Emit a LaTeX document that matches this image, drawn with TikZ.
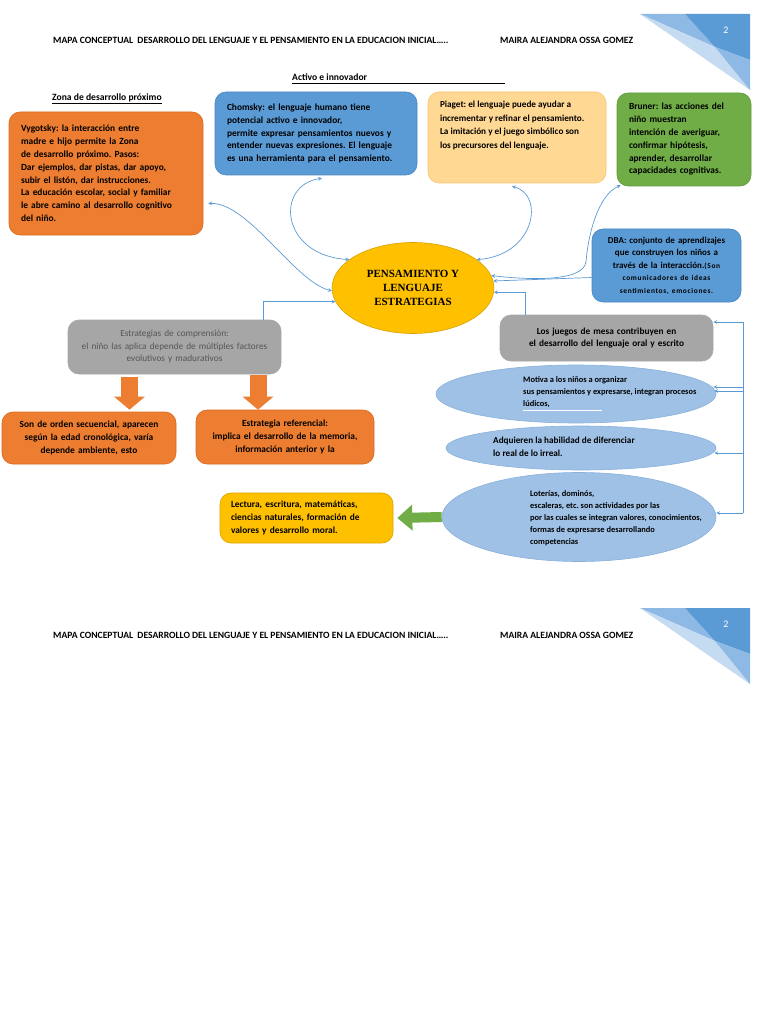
\documentclass[tikz,border=0pt]{standalone}
\usepackage{fontspec}
\setmainfont{Carlito}
\newfontfamily\titfont{Liberation Serif}
\usetikzlibrary{shapes,arrows,arrows.meta,positioning,calc}
\frenchspacing

\definecolor{lineblue}{HTML}{5B9BD5}
\definecolor{hddark}{HTML}{5B9BD5}
\definecolor{hdmid}{HTML}{8DB9E4}
\definecolor{hdlight}{HTML}{C5DBF1}
\definecolor{naranja}{HTML}{ED7D31}
\definecolor{naranjaborde}{HTML}{D86A1E}
\definecolor{azul}{HTML}{5B9BD5}
\definecolor{azulborde}{HTML}{4A86C2}
\definecolor{durazno}{HTML}{FFD894}
\definecolor{duraznoborde}{HTML}{F6C46E}
\definecolor{verde}{HTML}{70AD47}
\definecolor{verdeborde}{HTML}{5F9A3A}
\definecolor{oro}{HTML}{FFC000}
\definecolor{oroborde}{HTML}{D9A300}
\definecolor{gris}{HTML}{A6A6A6}
\definecolor{celeste}{HTML}{9FC1E6}
\definecolor{celesteborde}{HTML}{8AB0DC}
\definecolor{textogris}{HTML}{555555}

\newcommand{\chico}{\fontsize{7.4}{12}\selectfont\addfontfeature{LetterSpace=9}}

\begin{document}
\begin{tikzpicture}[x=1pt, y=-1pt,
  caja/.style={draw, rounded corners=11pt, line width=0.6pt, inner sep=0pt,
               align=left, text=black, font=\fontsize{9.4}{12.8}\selectfont\bfseries},
  elipse/.style={ellipse, draw=celesteborde, fill=celeste, line width=0.6pt, inner sep=0pt},
  etxt/.style={inner sep=0pt, align=left, font=\fontsize{8.4}{12}\selectfont\bfseries},
  hdtxt/.style={inner sep=0pt, font=\fontsize{9.6}{11}\selectfont\bfseries},
  subt/.style={inner sep=0pt, anchor=base west, font=\fontsize{9.6}{11}\selectfont\bfseries},
  conn/.style={draw=lineblue, line width=0.7pt},
  flecha/.style={draw=naranja, line width=17pt, -{Triangle[length=13pt,width=30pt]}},
  flechaverde/.style={draw=verde, line width=10pt, -{Triangle[length=15pt,width=25pt]}},
  >=stealth
]
\fill[white] (0,0) rectangle (768,1024);
\useasboundingbox (0,0) rectangle (768,1024);

% cabecera de las dos paginas
\foreach \dy/\nm in {0/a,594/b}{
  \begin{scope}[shift={(0,\dy)}]
    \fill[hdmid] (640,14) -- (685,14) -- (715,47) -- cycle;
    \fill[hddark] (685,14) -- (750,14) -- (750,60) -- (715,47) -- cycle;
    \fill[hdlight] (640,14) -- (715,47) -- (750,90) -- cycle;
    \fill[hdmid] (715,47) -- (750,60) -- (750,90) -- cycle;
    \node[hdtxt, anchor=base west] (titulo\nm) at (53,44)
      {MAPA CONCEPTUAL\ \ DESARROLLO DEL LENGUAJE Y EL PENSAMIENTO EN LA EDUCACION INICIAL…..};
    \node[hdtxt, anchor=base west] (autora\nm) at (500,44) {MAIRA ALEJANDRA OSSA GOMEZ};
    \node[text=white, font=\fontsize{10}{12}\selectfont] (pag\nm) at (726,30) {2};
  \end{scope}
}

\node[subt] (activo) at (292,81) {Activo e innovador};
\draw[line width=0.6pt] ([yshift=-2.5pt]activo.base west) -- ++(213,0);
\node[subt] (zona) at (52,101) {Zona de desarrollo próximo};
\draw[line width=0.6pt] ([yshift=-2.5pt]zona.base west) -- ([yshift=-2.5pt]zona.base east);

% autores
\node[caja, fill=naranja, draw=naranjaborde, minimum width=194pt, minimum height=123pt,
      text width=170pt] (vyg) at (106,173.5)
  {Vygotsky: la interacción entre\\madre e hijo permite la Zona\\de desarrollo próximo. Pasos:\\
   Dar ejemplos, dar pistas, dar apoyo,\\subir el listón, dar instrucciones.\\
   La educación escolar, social y familiar\\le abre camino al desarrollo cognitivo\\del niño.};
\node[caja, fill=azul, draw=azulborde, minimum width=202pt, minimum height=83pt,
      text width=178pt] (chom) at (316,133.5)
  {Chomsky: el lenguaje humano tiene\\potencial activo e innovador,\\
   permite expresar pensamientos nuevos y\\entender nuevas expresiones. El lenguaje\\
   es una herramienta para el pensamiento.};
\node[caja, fill=durazno, draw=duraznoborde, minimum width=178pt, minimum height=91pt,
      font=\fontsize{9.2}{13.6}\selectfont\bfseries] (piag) at (517,137.5)
  {\parbox[c][73pt][t]{154pt}{Piaget: el lenguaje puede ayudar a\\
   incrementar y refinar el pensamiento.\\La imitación y el juego simbólico son\\
   los precursores del lenguaje.}};
\node[caja, fill=verde, draw=verdeborde, minimum width=134pt, minimum height=93pt,
      text width=110pt] (brun) at (684,139.5)
  {Bruner: las acciones del\\niño muestran\\intención de averiguar,\\confirmar hipótesis,\\
   aprender, desarrollar\\capacidades cognitivas.};

% centro
\node[ellipse, draw=oroborde, fill=oro, line width=0.6pt, minimum width=162pt,
      minimum height=91pt, inner sep=0pt, align=center,
      font=\titfont\bfseries\fontsize{11}{14}\selectfont] (centro) at (413,288)
  {PENSAMIENTO Y\\LENGUAJE\\ESTRATEGIAS};

\node[caja, fill=azul, draw=azulborde, minimum width=149pt, minimum height=73pt,
      text width=135pt, align=center, font=\fontsize{9}{12.5}\selectfont\bfseries] (dba) at (666.5,265.5)
  {DBA: conjunto de aprendizajes\\que construyen los niños a\\través de la interacción.{\chico(Son}\\
   {\chico comunicadores de ideas}\\{\chico sentimientos, emociones.}};

\node[caja, fill=gris, draw=gris, minimum width=213pt, minimum height=46pt,
      text width=195pt, align=center, font=\fontsize{9.3}{12}\selectfont\bfseries] (juegos) at (606.5,338)
  {Los juegos de mesa contribuyen en\\el desarrollo del lenguaje oral y escrito};
\node[caja, fill=gris, draw=gris, minimum width=213pt, minimum height=54pt,
      text width=200pt, align=center, text=textogris,
      font=\fontsize{9.3}{12.5}\selectfont] (estrat) at (174.5,347)
  {Estrategias de comprensión:\\el niño las aplica depende de múltiples factores\\evolutivos y madurativos};

\node[caja, fill=naranja, draw=naranjaborde, minimum width=174pt, minimum height=52pt,
      text width=160pt, align=center] (orden) at (89,438)
  {Son de orden secuencial, aparecen\\según la edad cronológica, varía\\depende ambiente, esto};
\node[caja, fill=naranja, draw=naranjaborde, minimum width=178pt, minimum height=54pt,
      text width=160pt, align=center, font=\fontsize{9.4}{13.4}\selectfont\bfseries] (refer) at (285,437)
  {Estrategia referencial:\\implica el desarrollo de la memoria,\\información anterior y la};

\node[caja, fill=oro, draw=oroborde, minimum width=173pt, minimum height=50pt,
      text width=151pt, font=\fontsize{9.4}{13}\selectfont\bfseries] (lectura) at (306.5,518)
  {Lectura, escritura, matemáticas,\\ciencias naturales, formación de\\valores y desarrollo moral.};

% elipses de los juegos
\node[elipse, minimum width=280pt, minimum height=58pt] (motiva) at (576,394) {};
\node[etxt, anchor=west] (motivatxt) at (523,392)
  {Motiva a los niños a organizar\\sus pensamientos y expresarse, integran procesos\\lúdicos,};
\draw[white, line width=0.8pt] (523,410) -- (602,410);
\node[elipse, minimum width=270pt, minimum height=44pt] (adquieren) at (581,448) {};
\node[etxt, anchor=west, font=\fontsize{9.2}{13}\selectfont\bfseries] (adquierentxt) at (493,446.5)
  {Adquieren la habilidad de diferenciar\\lo real de lo irreal.};
\node[elipse, minimum width=274pt, minimum height=89pt] (loterias) at (579,517) {};
\node[etxt, anchor=west] (loteriastxt) at (530,518)
  {Loterías, dominós,\\escaleras, etc. son actividades por las\\
   por las cuales se integran valores, conocimientos,\\formas de expresarse desarrollando\\competencias};

% flechas gruesas
\draw[flecha] ([shift={(-45pt,-3pt)}]estrat.south) -- ([shift={(40.5pt,2pt)}]orden.north);
\draw[flecha] ([shift={(83.5pt,-1pt)}]estrat.south) -- ([xshift=-27pt]refer.north);
\draw[flechaverde] (loterias.west) -- ([xshift=4pt]lectura.east);

% conectores al centro
\draw[conn, <->] ([shift={(5pt,-30pt)}]vyg.east) .. controls (248,202) and (295,282) .. (centro.182);
\draw[conn, <->] ([shift={(6pt,-3pt)}]chom.south) .. controls (275,185) and (280,255) .. (centro.156);
\draw[conn, <->] ([shift={(-5pt,-3pt)}]piag.south) .. controls (545,195) and (535,255) .. (centro.24);
\draw[conn, <->] ([shift={(4pt,1pt)}]brun.south west) .. controls (598,195) and (588,235) .. (586,262)
  .. controls (583,280) and (540,281) .. (centro.9);
\draw[conn, ->] ([yshift=-12pt]dba.west) -- (centro.5);
\draw[conn, ->] ([xshift=26pt]juegos.north west) |- (centro.-3);
\draw[conn, ->] ([xshift=-18pt]estrat.north east) |- (centro.190);

% bus de la derecha
\coordinate (busarriba) at (743,322);
\coordinate (busabajo) at (743,513);
\draw[conn] (busarriba) -- (busabajo);
\draw[conn, ->] (busarriba) -- (juegos.east |- busarriba);
\draw[conn, ->] ($(busarriba |- motiva.east)+(0,-7)$) -- ($(motiva.east)+(-3,-7)$);
\draw[conn, ->] ($(busarriba |- motiva.east)+(0,-3)$) -- ($(motiva.east)+(-2,-3)$);
\draw[conn, ->] ($(busarriba |- adquieren.east)+(0,5)$) -- ($(adquieren.east)+(-2,5)$);
\draw[conn, ->] (busabajo) -- (loterias.east |- busabajo);
\end{tikzpicture}
\end{document}
